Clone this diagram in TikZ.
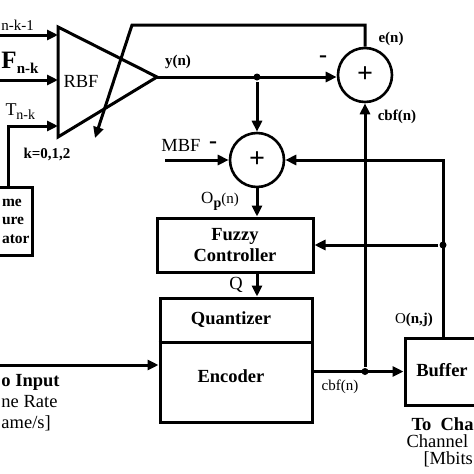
\documentclass[tikz,border=0pt]{standalone}
\usepackage{fontspec}
\setmainfont{Liberation Serif}
\usetikzlibrary{arrows.meta,calc}
\begin{document}
\begin{tikzpicture}[x=1pt,y=-1pt,line width=3pt,
  box/.style={draw,line width=3pt,inner sep=0pt,align=center,font=\bfseries\fontsize{18.5}{21}\selectfont},
  sumc/.style={circle,draw,line width=2.6pt,minimum size=54pt,inner sep=0pt,font=\bfseries\fontsize{28}{28}\selectfont},
  arr/.style={-{Triangle[length=11pt,width=10pt]}},
  lbl/.style={inner sep=0pt,font=\fontsize{15}{17}\selectfont},
  blbl/.style={inner sep=0pt,font=\bfseries\fontsize{15}{17}\selectfont},
  big/.style={inner sep=0pt,font=\fontsize{18.5}{21}\selectfont},
  bbig/.style={inner sep=0pt,font=\bfseries\fontsize{18.5}{21}\selectfont},
  fsgtxt/.style={inner sep=0pt,font=\bfseries\fontsize{15.5}{18}\selectfont},
  sign/.style={inner sep=0pt,font=\bfseries\fontsize{24}{24}\selectfont},
  jdot/.style={circle,fill,inner sep=0pt,minimum size=7pt}]
\path[use as bounding box] (0,0) rectangle (474,474);
\clip (0,0) rectangle (474,474);
% RBF triangle
\coordinate (tl) at (58,27);
\coordinate (bl) at (58,137);
\coordinate (tA) at (157,77);
\draw[line join=miter] (tl) -- (tA) -- (bl) -- cycle;
\node[big] (rbf) at (81,81) {RBF};
% sums
\node[sumc] (sumE) at (365,75) {+};
\node[sumc] (sumO) at (257,160) {+};
% boxes
\node[box,minimum width=156pt,minimum height=54pt] (fuzzy) at (235,245) {Fuzzy\\Controller};
\node[box,minimum width=152pt,minimum height=124pt] (qe) at (236,360) {};
\draw (qe.west |- 0,342) -- (qe.east |- 0,342);
\node[bbig] (quant) at (231,320) {Quantizer};
\node[bbig] (enc) at (231,376) {Encoder};
\node[box,minimum width=80pt,minimum height=67pt] (buffer) at (445,371.5) {};
\node[bbig] (buftxt) at (442,370) {Buffer};
\node[box,minimum width=72pt,minimum height=68pt] (fsg) at (-4,221) {};
\node[fsgtxt,anchor=west] (fsg1) at (0.5,203) {me};
\node[fsgtxt,anchor=west] (fsg2) at (0.5,221) {ure};
\node[fsgtxt,anchor=west] (fsg3) at (0.5,239) {ator};
% inputs to RBF
\coordinate (in1) at (0,35);
\coordinate (in2) at (0,80);
\coordinate (tcol) at (8,126);
\draw[arr] (in1) -- (in1 -| tl);
\draw[arr] (in2) -- (in2 -| tl);
\draw[arr] (fsg.north -| tcol) -- (tcol) -- (tcol -| tl);
% adaptation arrow
\coordinate (adc) at (132,25);
\coordinate (adtip) at (95,138);
\draw[arr] (sumE.north) -- (sumE.north |- adc) -- (adc) -- (adtip);
% y(n)
\node[jdot] (j1) at (257,77) {};
\draw[arr] (tA) -- (tA -| sumE.west);
\draw[arr] (j1) -- (sumO.north);
% MBF
\coordinate (mbfin) at (165,160);
\draw[arr] (mbfin) -- (sumO.west);
% feedback from buffer
\coordinate (fbc) at (443,160);
\draw[arr] (buffer.north -| fbc) -- (fbc) -- (sumO.east);
\node[jdot] (j2) at (fbc |- fuzzy.east) {};
\draw[arr] (j2) -- (fuzzy.east);
% vertical chain
\draw[arr] (sumO.south) -- (sumO.south |- fuzzy.north);
\draw[arr] (sumO.south |- fuzzy.south) -- (sumO.south |- qe.north);
% video input
\coordinate (vin) at (0,365);
\draw[arr] (vin) -- (vin -| qe.west);
% encoder to buffer
\draw[arr] (qe.east |- buffer.west) -- (buffer.west);
\node[jdot] (j3) at (sumE.south |- buffer.west) {};
\draw[arr] (j3) -- (sumE.south);
% labels
\node[lbl,anchor=west] (l1) at (0,25) {n-k-1};
\node[inner sep=0pt,anchor=base west] (l2) at (0,68) {\bfseries\fontsize{25}{25}\selectfont F\raisebox{-5pt}{\fontsize{15}{15}\selectfont n-k}};
\node[inner sep=0pt,anchor=base west] (l3) at (4,115) {\fontsize{18}{18}\selectfont T\raisebox{-4pt}{\fontsize{14}{14}\selectfont n-k}};
\node[blbl] (lk) at (47,154) {k=0,1,2};
\node[blbl] (lyn) at (178,62) {y(n)};
\node[sign] (m1) at (323,59) {-};
\node[blbl] (len) at (391,39) {e(n)};
\node[blbl] (lcbf1) at (397,117) {cbf(n)};
\node[big] (lmbf) at (181,145) {MBF};
\node[sign] (m2) at (213,145) {-};
\node[inner sep=0pt] (lop) at (220,201) {\fontsize{17}{17}\selectfont O\raisebox{-4pt}{\bfseries\fontsize{14}{14}\selectfont p}\fontsize{15}{15}\selectfont(n)};
\node[big] (lq) at (236,285) {Q};
\node[lbl] (lcbf2) at (340,387) {cbf(n)};
\node[inner sep=0pt] (lonj) at (414,320) {\fontsize{15}{15}\selectfont O\bfseries(n,j)};
\node[bbig,anchor=west] (v1) at (0,382) {o Input};
\node[big,anchor=west] (v2) at (0,402) {ne Rate};
\node[big,anchor=west] (v3) at (0,423) {ame/s]};
\node[bbig,anchor=west] (c1) at (410,424) {To\ \ Cha};
\node[big,anchor=west] (c2) at (405,441) {Channel};
\node[big,anchor=west] (c3) at (422,459) {[Mbits};
\end{tikzpicture}
\end{document}
